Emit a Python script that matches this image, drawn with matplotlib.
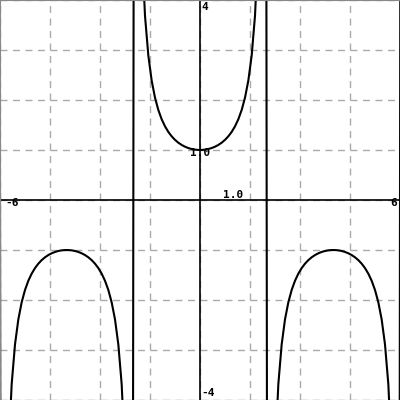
import numpy as np
import matplotlib
matplotlib.use("Agg")
import matplotlib.pyplot as plt

x_min, x_max = -6, 6
y_min, y_max = -4, 4
x_grid_step = 1.5
y_grid_step = 1.0
x = np.arange(-6.05, 6.1, 0.1)
y = 1/np.cos(np.pi*x/4)

fig = plt.figure(figsize=(4, 4), dpi=100)
ax = fig.add_axes([0, 0, 1, 1])
ax.set_xlim(x_min, x_max)
ax.set_ylim(y_min, y_max)
for gx in np.arange(x_min, x_max + 0.01, x_grid_step):
    ax.axvline(gx, color='#aaaaaa', lw=1, ls=(0, (5, 4)), zorder=0)
for gy in np.arange(y_min, y_max + 0.01, y_grid_step):
    ax.axhline(gy, color='#aaaaaa', lw=1, ls=(0, (5, 4)), zorder=0)
ax.axhline(0, color='black', lw=1.2)
ax.axvline(0, color='black', lw=1.2)
ax.plot(x, y, color='black', lw=1.5)
for s in ax.spines.values():
    s.set_color('#888888')
ax.set_xticks([]); ax.set_yticks([])
kw = dict(family='DejaVu Sans Mono', fontweight='bold', fontsize=8, color='black')
ax.text(-5.85, -0.05, '-6', ha='left', va='center', **kw)
ax.text(5.9, -0.05, '6', ha='right', va='center', **kw)
ax.text(0.05, 3.85, '4', ha='left', va='center', **kw)
ax.text(0.05, -3.85, '-4', ha='left', va='center', **kw)
ax.text(1.0, 0.0, '1.0', ha='center', va='bottom', **kw)
ax.text(0.0, 0.95, '1.0', ha='center', va='center', **kw)
fig.savefig('out.png', dpi=100)
